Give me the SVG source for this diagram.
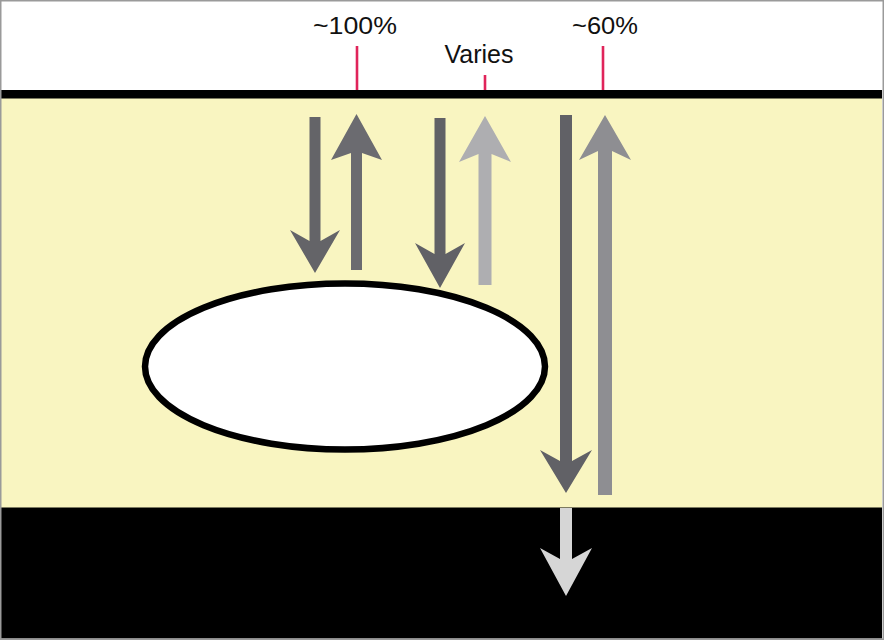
<svg xmlns="http://www.w3.org/2000/svg" width="884" height="640" viewBox="0 0 884 640">
<style>
.lbl{font-family:"Liberation Sans",Arial,sans-serif;fill:#111;text-anchor:middle}
.tick{stroke:#e0245a;stroke-width:2.6}
.dk{fill:#616166}
</style>
<rect x="0" y="0" width="884" height="640" fill="#ffffff"/>
<rect x="1" y="98" width="881" height="410" fill="#f9f5c1"/>
<rect x="1" y="507.5" width="881" height="131" fill="#000000"/>
<rect x="1" y="90" width="881" height="8.5" fill="#000000"/>
<rect x="0.75" y="0.75" width="882.5" height="638.5" fill="none" stroke="#9a9a9a" stroke-width="1.5"/>
<g id="cloud">
<ellipse cx="345" cy="366.5" rx="200" ry="83" fill="#ffffff" stroke="#000000" stroke-width="6.5"/>
</g>
<g id="labels">
<g id="label-100"><line class="tick" x1="357" y1="46" x2="357" y2="90"/><text class="lbl" x="355" y="34" font-size="23" textLength="84" lengthAdjust="spacingAndGlyphs">~100%</text></g>
<g id="label-varies"><line class="tick" x1="485" y1="75" x2="485" y2="90"/><text class="lbl" x="479" y="62.5" font-size="25">Varies</text></g>
<g id="label-60"><line class="tick" x1="603" y1="46" x2="603" y2="90"/><text class="lbl" x="605" y="34" font-size="23" textLength="66" lengthAdjust="spacingAndGlyphs">~60%</text></g>
</g>
<g id="connectors">
<polygon fill="#646468" points="309.5,117 320.5,117 320.5,241 340,230 315,273 290,230 309.5,241"/>
<polygon fill="#6b6b70" points="351,270 362,270 362,153 382,160 356.5,114 331,160 351,153"/>
<polygon class="dk" points="434.5,118 445.5,118 445.5,254 465,243 440,288 415,243 434.5,254"/>
<polygon fill="#aeaeb1" points="478.5,285 491.5,285 491.5,154 511,162 485,116 459,162 478.5,154"/>
<polygon class="dk" points="560,115 572,115 572,461 592,450 566,493 540,450 560,461"/>
<polygon fill="#8e8e92" points="598,495 612,495 612,151 631,160 605,115 579,160 598,151"/>
<polygon fill="#d6d6d6" points="560,508 572,508 572,559 592,548 566,596 540,548 560,559"/>
</g>
</svg>
